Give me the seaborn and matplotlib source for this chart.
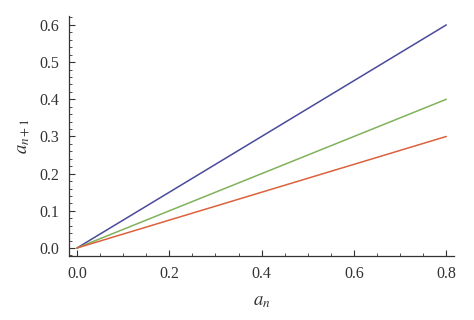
import matplotlib
matplotlib.use("Agg")
import matplotlib.pyplot as plt
from matplotlib.ticker import MultipleLocator
import seaborn as sns
import pandas as pd

# data
a_n = [0.0, 0.8]
series_blue = [0.0, 0.6]
series_green = [0.0, 0.4]
series_red = [0.0, 0.3]
series_names = ["blue", "green", "red"]
colors = ["#4A4A9C", "#80B25C", "#DB623C"]
x_ticks = [0.0, 0.2, 0.4, 0.6, 0.8]
y_ticks = [0.0, 0.1, 0.2, 0.3, 0.4, 0.5, 0.6]

rows = []
for name, vals in zip(series_names, [series_blue, series_green, series_red]):
    for x, y in zip(a_n, vals):
        rows.append({"x": x, "y": y, "s": name})
df = pd.DataFrame(rows)

sns.set_theme(style="ticks")
plt.rcParams["font.family"] = ["Liberation Serif", "DejaVu Serif"]
plt.rcParams["mathtext.fontset"] = "stix"

fig = plt.figure(figsize=(4.74, 3.2), dpi=100)
ax = fig.add_axes([0.1456, 0.2, 0.8125, 0.75])
sns.lineplot(data=df, x="x", y="y", hue="s", palette=colors, legend=False,
             ax=ax, linewidth=1.1)

ax.set_xlim(-0.0172, 0.817)
ax.set_ylim(-0.0215, 0.624)
ax.set_xticks(x_ticks)
ax.set_yticks(y_ticks)
ax.set_xticklabels([f"{t:.1f}" for t in x_ticks])
ax.set_yticklabels([f"{t:.1f}" for t in y_ticks])
ax.xaxis.set_minor_locator(MultipleLocator(0.05))
ax.yaxis.set_minor_locator(MultipleLocator(0.02))
ax.tick_params(which="major", direction="in", length=4, width=0.8, labelsize=11.5,
               colors="#333333", pad=7)
ax.tick_params(which="minor", direction="in", length=2, width=0.6, colors="#333333")
for side in ["top", "right"]:
    ax.spines[side].set_visible(False)
for side in ["left", "bottom"]:
    ax.spines[side].set_color("#333333")
    ax.spines[side].set_linewidth(0.9)

ax.set_xlabel("$a_n$", fontsize=13.5, color="#333333", labelpad=8)
ax.set_ylabel("$a_{n+1}$", fontsize=13.5, color="#333333", labelpad=5)

fig.savefig("out.png", dpi=100)
